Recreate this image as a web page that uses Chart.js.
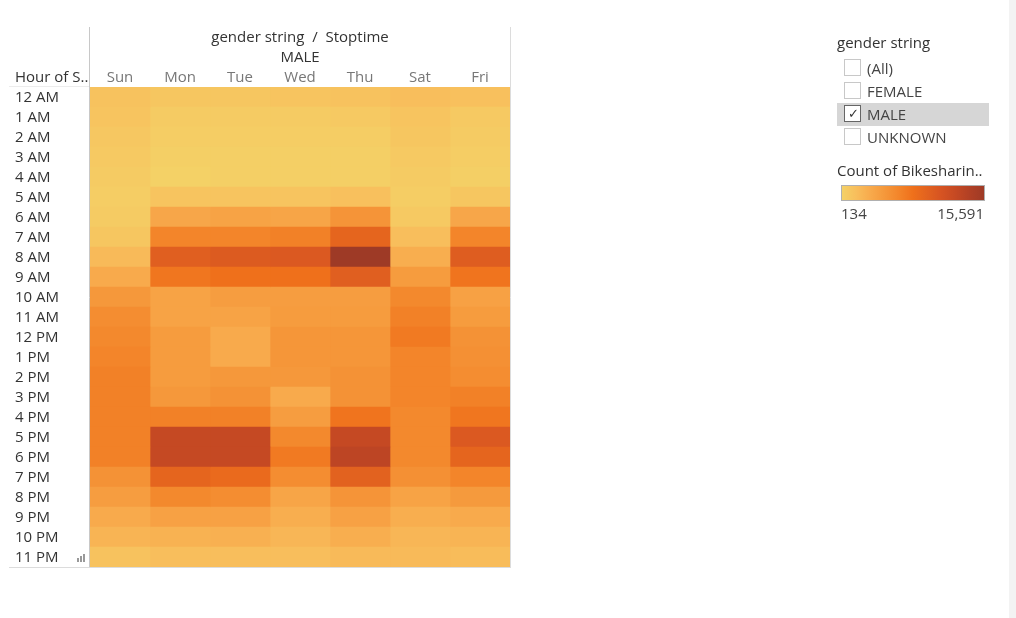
<!DOCTYPE html>
<html><head><meta charset="utf-8">
<script src="https://cdn.jsdelivr.net/npm/chart.js@4.4.1/dist/chart.umd.min.js"></script>
<style>
body{margin:0;background:#fff;font-family:"Open Sans",sans-serif;}
#wrap{position:relative;width:1016px;height:618px;overflow:hidden;background:#fff}
#c{position:absolute;left:0;top:0}
.t{position:absolute;color:#333;font-size:15px;white-space:nowrap;line-height:20px}
.cb{position:absolute;width:17px;height:17px;border:1px solid #c8c8c8;background:#fff;box-sizing:border-box}
#strip{position:absolute;left:1009px;top:0;width:7px;height:618px;background:#f3f3f3}
</style></head>
<body><div id="wrap">
<canvas id="c" width="1016" height="618"></canvas>
<div class="t" style="left:837px;top:32px">gender string</div>
<div style="position:absolute;left:837px;top:103px;width:152px;height:23px;background:#d6d6d6"></div>
<div class="cb" style="left:844px;top:59px"></div><div class="t" style="left:867px;top:58px;color:#444">(All)</div>
<div class="cb" style="left:844px;top:82px"></div><div class="t" style="left:867px;top:81px;color:#444">FEMALE</div>
<div class="cb" style="left:844px;top:105px;border-color:#666"></div><div class="t" style="left:848px;top:103px;font-size:13px;color:#333">✓</div><div class="t" style="left:867px;top:104px;color:#444">MALE</div>
<div class="cb" style="left:844px;top:128px"></div><div class="t" style="left:867px;top:127px;color:#444">UNKNOWN</div>
<div class="t" style="left:837px;top:160px">Count of Bikesharin..</div>
<div id="ramp" style="position:absolute;left:841px;top:185px;width:144px;height:16px;box-sizing:border-box;border:1px solid #b0b0b0"></div>
<div class="t" style="left:841px;top:203px;color:#444">134</div>
<div class="t" style="left:884px;width:100px;text-align:right;top:203px;color:#444">15,591</div>
<div id="strip"></div>
</div>
<script>
const hours = ["12 AM","1 AM","2 AM","3 AM","4 AM","5 AM","6 AM","7 AM","8 AM","9 AM","10 AM","11 AM",
               "12 PM","1 PM","2 PM","3 PM","4 PM","5 PM","6 PM","7 PM","8 PM","9 PM","10 PM","11 PM"];
const days = ["Sun","Mon","Tue","Wed","Thu","Sat","Fri"];
const sun = [1371,1216,907,752,598,443,598,1061,1989,3225,4771,5699,6008,6317,6626,6626,6626,6626,6626,5235,4307,3225,2453,1371];
const mon = [1061,598,443,289,134,1216,3535,6317,9717,7399,3844,3844,4462,4462,4462,4771,6626,12500,12500,9099,6008,3998,2607,1680];
const tue = [1061,598,443,289,289,1216,3844,6317,10181,7863,4307,3844,3225,3225,4771,5235,6626,12500,12500,8481,5699,3998,2762,1680];
const wed = [1216,598,443,289,289,1216,3689,6626,10336,7863,4307,4462,4926,4926,4771,3225,4307,6008,7090,5699,3689,2916,2298,1680];
const thu = [1371,752,443,289,289,1525,5080,9099,15591,9717,4307,4462,4926,4926,5235,5235,7553,12500,13118,9408,5080,3998,2916,1989];
const sat = [1680,1216,1061,752,598,443,752,1680,2916,4462,6008,6626,7090,6317,6317,6317,6008,6008,6008,5389,3844,2916,2298,1989];
const fri = [1525,752,598,443,289,1061,3535,6317,9872,7553,3998,4462,5235,5389,5699,6626,7399,10336,9099,6317,4617,3225,2453,1834];
const dayValues = [sun, mon, tue, wed, thu, sat, fri];
const minCount = 134, maxCount = 15591;
const rampStops = ["#F4D166","#F8BE5C","#F8AA4C","#F5983B","#F3852A","#EF701B","#E2621F","#D65322","#C54923","#B14025","#9E3A26"];

function hex(h){return [parseInt(h.slice(1,3),16),parseInt(h.slice(3,5),16),parseInt(h.slice(5,7),16)];}
function colorFor(v){
  let t=(v-minCount)/(maxCount-minCount); t=Math.max(0,Math.min(1,t));
  const p=t*(rampStops.length-1), i=Math.min(Math.floor(p),rampStops.length-2), f=p-i;
  const a=hex(rampStops[i]), b=hex(rampStops[i+1]);
  return 'rgb('+a.map((x,k)=>Math.round(x+(b[k]-x)*f)).join(',')+')';
}
document.getElementById('ramp').style.background='linear-gradient(to right,'+rampStops.join(',')+')';

const FONT='"Open Sans", sans-serif';
const decor={id:'decor',afterDraw(c){
  const ctx=c.ctx,a=c.chartArea;
  ctx.save();
  ctx.lineWidth=1;
  ctx.strokeStyle='#c8c8c8';
  ctx.beginPath();ctx.moveTo(a.left-0.5,27);ctx.lineTo(a.left-0.5,a.bottom+1);ctx.stroke();
  ctx.strokeStyle='#dcdcdc';
  ctx.beginPath();ctx.moveTo(a.right+0.5,27);ctx.lineTo(a.right+0.5,a.bottom+1);ctx.stroke();
  ctx.beginPath();ctx.moveTo(9,a.bottom+0.5);ctx.lineTo(a.right+1,a.bottom+0.5);ctx.stroke();
  ctx.strokeStyle='#ececec';
  ctx.beginPath();ctx.moveTo(9,a.top-0.5);ctx.lineTo(a.left-1,a.top-0.5);ctx.stroke();
  ctx.fillStyle='#333';ctx.font='15px '+FONT;ctx.textBaseline='middle';
  const cx=(a.left+a.right)/2;
  ctx.textAlign='center';
  ctx.fillText('gender string  /  Stoptime',cx,a.top-49);
  ctx.fillText('MALE',cx,a.top-29);
  ctx.textAlign='left';
  ctx.fillText('Hour of S..',15,a.top-9);
  ctx.fillStyle='#999';
  [[77,4],[80,2],[83,0]].forEach(([x,o])=>ctx.fillRect(x,a.bottom-13+o,2,8-o));
  ctx.restore();
}};

new Chart(document.getElementById('c'),{
  type:'bar',
  data:{labels:hours,datasets:days.map((d,i)=>({
    label:d,data:dayValues[i].map(()=>1),
    backgroundColor:(ctx)=>colorFor(dayValues[i][ctx.dataIndex]),
    borderWidth:0,categoryPercentage:1,barPercentage:1,xAxisID:'x'}))},
  options:{
    indexAxis:'y',responsive:false,animation:false,
    layout:{padding:{left:15,right:506,top:67,bottom:51}},
    plugins:{legend:{display:false},tooltip:{enabled:false},title:{display:false}},
    scales:{
      x:{type:'linear',stacked:true,min:0,max:days.length,display:false},
      x2:{type:'category',labels:days,position:'top',offset:true,
        grid:{display:false,drawTicks:false},border:{display:false},
        ticks:{color:'#777',font:{family:FONT,size:15},padding:0,maxRotation:0},
        afterFit(s){s.height=20;}},
      y:{type:'category',stacked:true,
        grid:{display:false,drawTicks:false},border:{display:false},
        ticks:{color:'#333',font:{family:FONT,size:15},crossAlign:'far',padding:4,autoSkip:false,labelOffset:1},
        afterFit(s){s.width=75;}}
    }
  },
  plugins:[decor]
});
</script>
</body></html>
